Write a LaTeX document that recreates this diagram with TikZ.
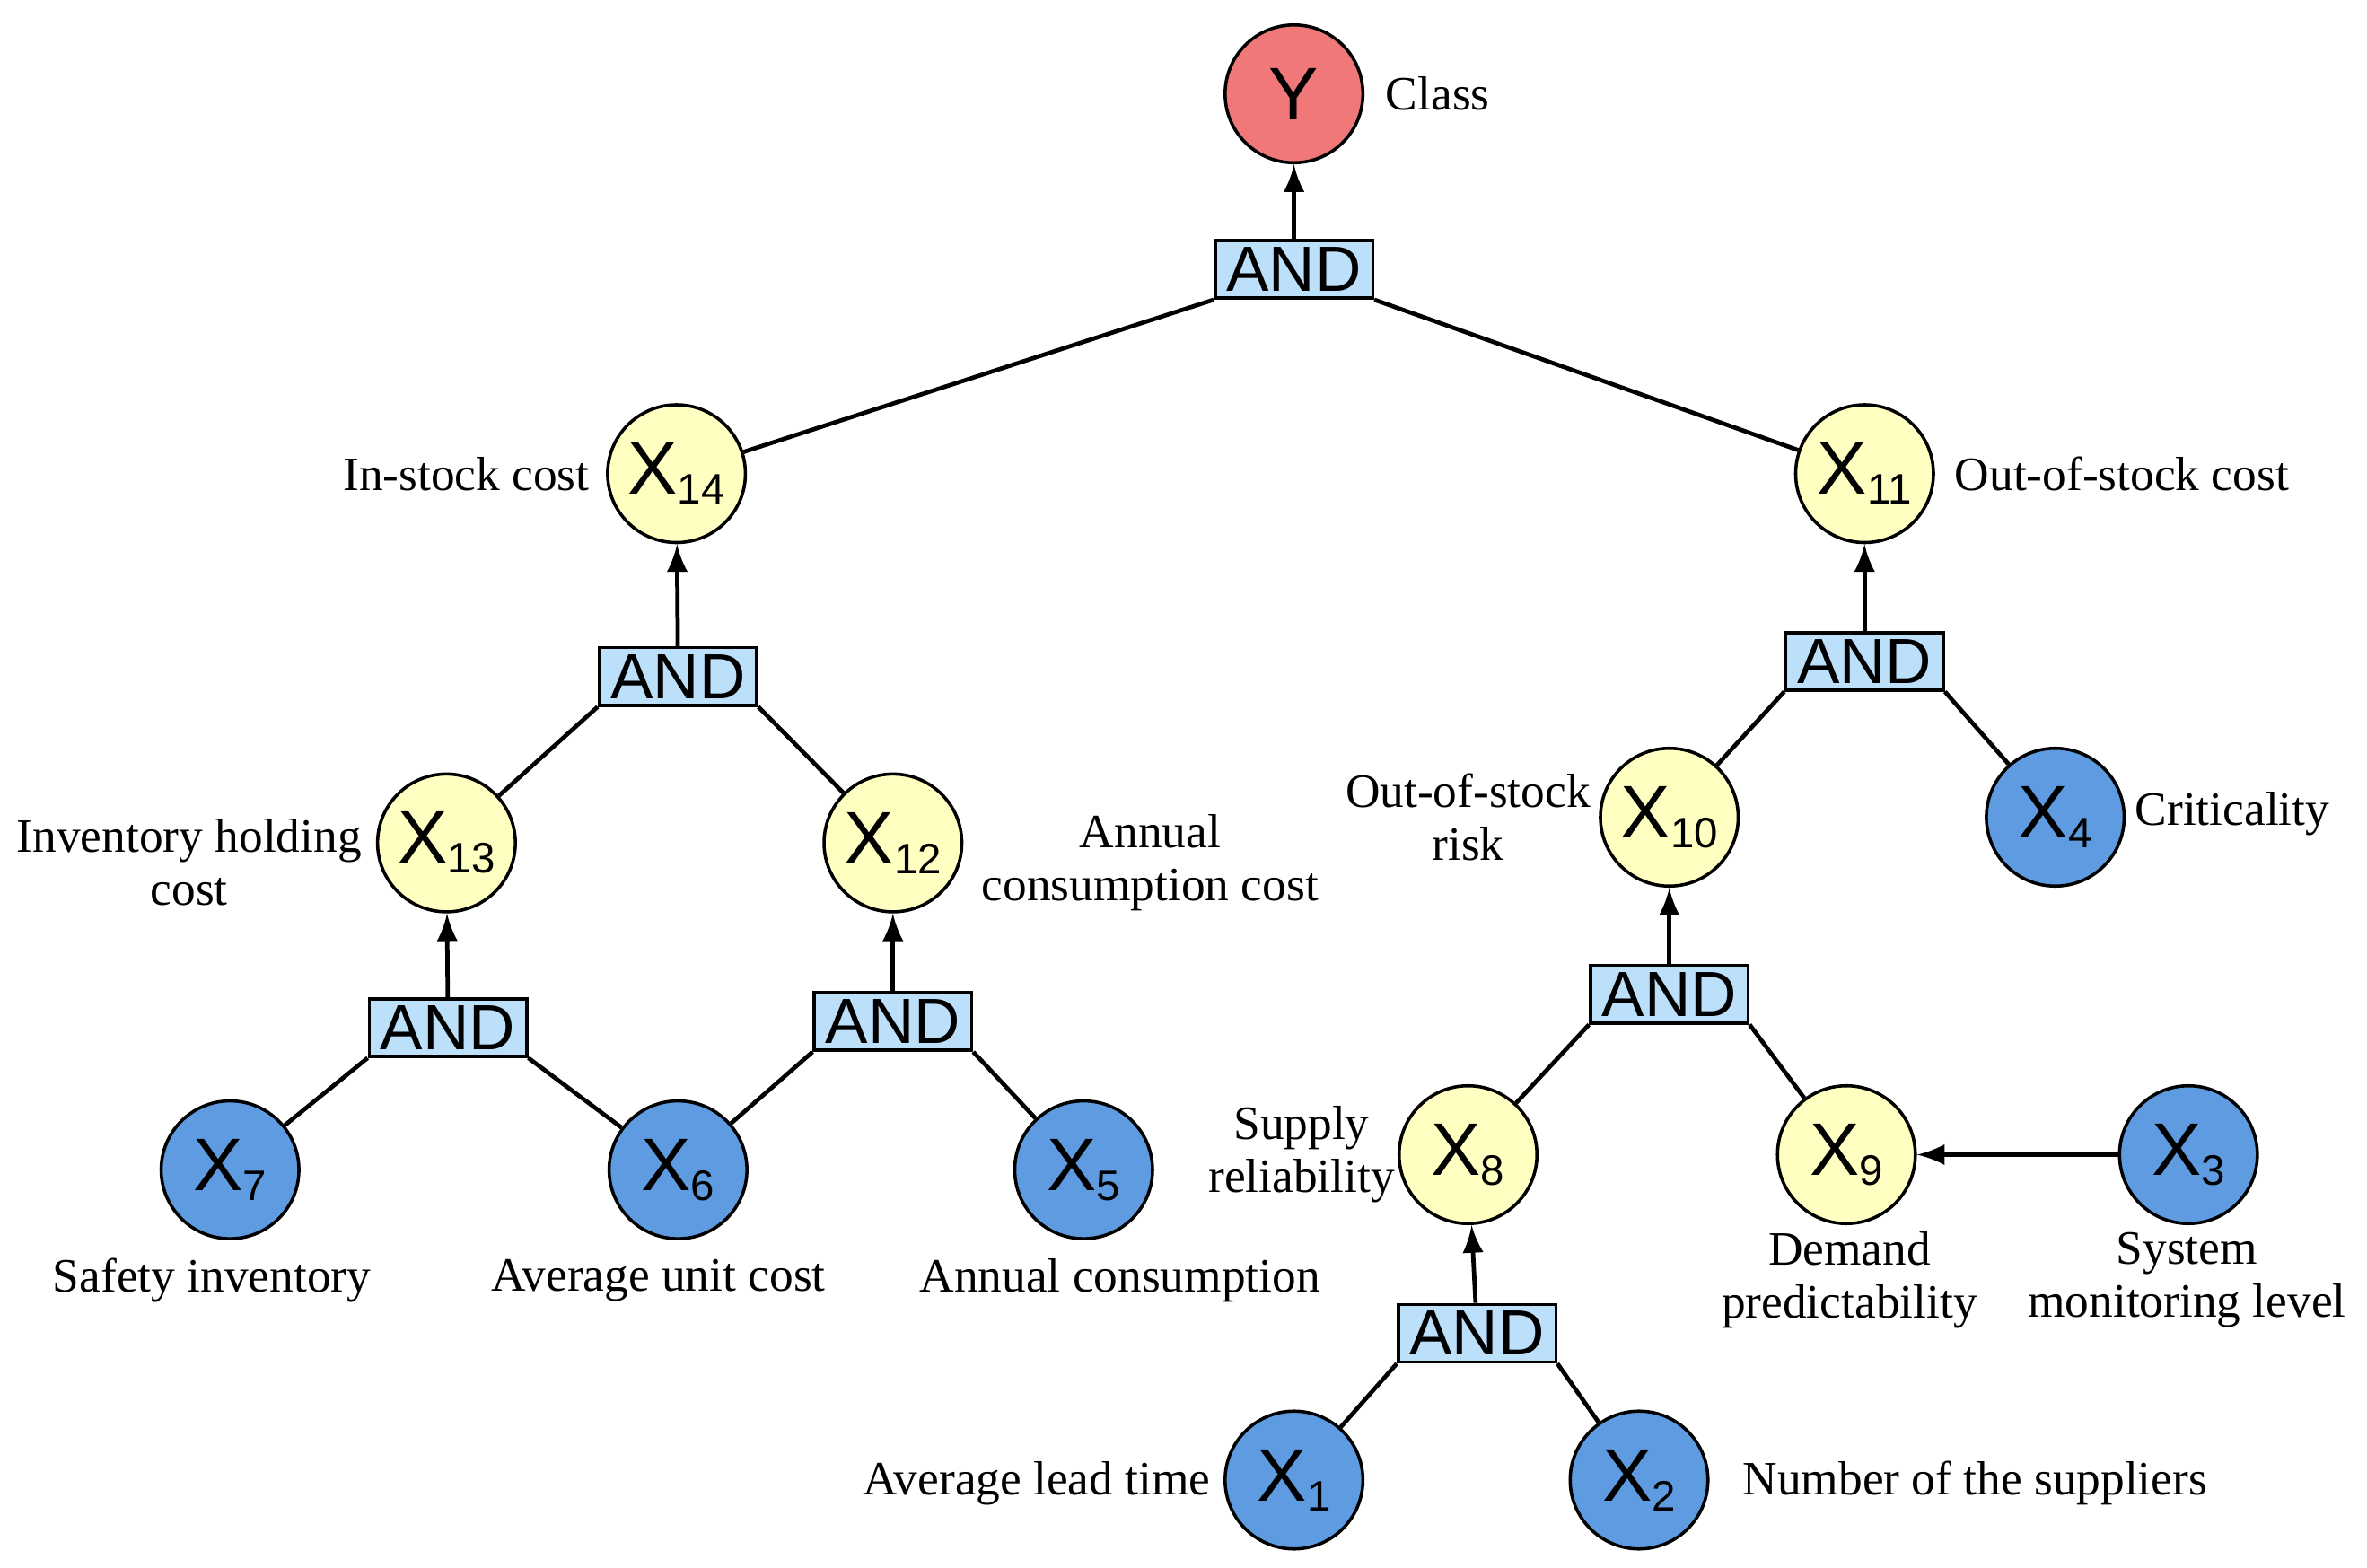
\documentclass[tikz,border=0pt]{standalone}
\usepackage{fontspec}
\setmainfont{Liberation Serif}
\newfontfamily\nodesans{Liberation Sans}
\newcommand\xs[1]{X\raisebox{-0.25ex}{\fontsize{8}{8}\selectfont #1}}
\definecolor{cred}{HTML}{F07878}
\definecolor{cyel}{HTML}{FFFFC2}
\definecolor{cblu}{HTML}{5E9BE0}
\definecolor{cand}{HTML}{BDE0FA}
\begin{document}
\begin{tikzpicture}[x=0.01cm,y=-0.01cm,
 circ/.style={circle,draw,line width=0.6pt,minimum size=0.91cm,inner sep=0pt,font=\nodesans\fontsize{14}{14}\selectfont},
 red/.style={circ,fill=cred},yel/.style={circ,fill=cyel},blu/.style={circ,fill=cblu},
 gate/.style={draw,line width=0.6pt,fill=cand,minimum width=1.04cm,minimum height=0.38cm,inner sep=0pt,font=\nodesans\fontsize{12}{12}\selectfont},
 lab/.style={font=\fontsize{9}{10}\selectfont,align=center},
 ln/.style={line width=0.8pt},
 ar/.style={line width=0.8pt,-latex}]
\useasboundingbox (0,0) rectangle (1564,1036);
\node[red] (Y) at (855,62) {Y};
\node[gate] (g0) at (855,178) {AND};
\node[yel] (X14) at (447,313) {\xs{14}};
\node[yel] (X11) at (1232,313) {\xs{11}};
\node[gate] (g14) at (448,447) {AND};
\node[yel] (X13) at (295,557) {\xs{13}};
\node[yel] (X12) at (590,557) {\xs{12}};
\node[gate] (g13) at (296,679) {AND};
\node[gate] (g12) at (590,675) {AND};
\node[blu] (X7) at (152,773) {\xs{7}};
\node[blu] (X6) at (448,773) {\xs{6}};
\node[blu] (X5) at (716,773) {\xs{5}};
\node[gate] (g11) at (1232,437) {AND};
\node[yel] (X10) at (1103,540) {\xs{10}};
\node[blu] (X4) at (1358,540) {\xs{4}};
\node[gate] (g10) at (1103,657) {AND};
\node[yel] (X8) at (970,763) {\xs{8}};
\node[yel] (X9) at (1220,763) {\xs{9}};
\node[blu] (X3) at (1446,763) {\xs{3}};
\node[gate] (g8) at (976,881) {AND};
\node[blu] (X1) at (855,978) {\xs{1}};
\node[blu] (X2) at (1083,978) {\xs{2}};

\draw[ar] (g0) -- (Y);
\draw[ln] (g0.south west) -- (X14); \draw[ln] (g0.south east) -- (X11);
\draw[ar] (g14) -- (X14);
\draw[ln] (g14.south west) -- (X13); \draw[ln] (g14.south east) -- (X12);
\draw[ar] (g13) -- (X13);
\draw[ln] (g13.south west) -- (X7); \draw[ln] (g13.south east) -- (X6);
\draw[ar] (g12) -- (X12);
\draw[ln] (g12.south west) -- (X6); \draw[ln] (g12.south east) -- (X5);
\draw[ar] (g11) -- (X11);
\draw[ln] (g11.south west) -- (X10); \draw[ln] (g11.south east) -- (X4);
\draw[ar] (g10) -- (X10);
\draw[ln] (g10.south west) -- (X8); \draw[ln] (g10.south east) -- (X9);
\draw[ar] (g8) -- (X8);
\draw[ln] (g8.south west) -- (X1); \draw[ln] (g8.south east) -- (X2);
\draw[ar] (X3) -- (X9);

\node[lab] at (950,62) {Class};
\node[lab] at (308,313) {In-stock cost};
\node[lab] at (1402,313) {Out-of-stock cost};
\node[lab] at (125,570) {Inventory holding\\cost};
\node[lab] at (760,570) {Annual\\consumption cost};
\node[lab] at (970,540) {Out-of-stock\\risk};
\node[lab] at (1475,538) {Criticality};
\node[lab] at (860,763) {Supply\\reliability};
\node[lab] at (140,846) {Safety inventory};
\node[lab] at (435,846) {Average unit cost};
\node[lab] at (740,846) {Annual consumption};
\node[lab] at (1222,846) {Demand\\predictability};
\node[lab] at (1445,846) {System\\monitoring level};
\node[lab] at (685,980) {Average lead time};
\node[lab] at (1305,980) {Number of the suppliers};
\end{tikzpicture}
\end{document}
